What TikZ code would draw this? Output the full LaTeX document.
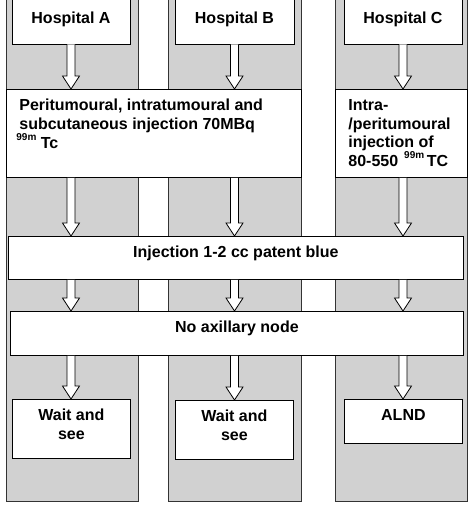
\documentclass[tikz,border=0pt]{standalone}
\usepackage{fontspec}
\setmainfont{Liberation Sans}
\usetikzlibrary{calc}
\definecolor{colgray}{gray}{0.82}
\definecolor{coledge}{gray}{0.2}
\newcommand*{\tbox}[3]{\parbox[c][#2pt][t]{#1pt}{#3}}
\newcommand*{\mass}[1]{{\fontsize{10}{10}\selectfont\raisebox{8pt}{#1}}}
\newcommand*{\blkarrow}[2]{%
  \draw[blockarrow] let \p1=(#1), \p2=(#2) in
    (\x1-4,\y1) -- (\x1-4,\y2+13) -- (\x1-8.5,\y2+13) -- (\x1,\y2)
    -- (\x1+8.5,\y2+13) -- (\x1+4,\y2+13) -- (\x1+4,\y1);}

\begin{document}
\begin{tikzpicture}[x=1pt,y=-1pt,
  column/.style={fill=colgray,draw=coledge,line width=0.8pt},
  box/.style={draw=black,line width=0.8pt,fill=white,anchor=north west,
    inner xsep=0pt,inner ysep=10pt,font=\fontsize{16}{18.6}\selectfont\bfseries},
  hosp/.style={draw=black,line width=0.8pt,fill=white,minimum height=50pt,
    font=\fontsize{16}{18.6}\selectfont\bfseries},
  blockarrow/.style={draw=black,line width=0.8pt,fill=white,line join=miter}]
\useasboundingbox (0,0) rectangle (474,515);
% Grey columns, one per hospital
\draw[column] (6,-6) rectangle (138,501);
\draw[column] (168,-6) rectangle (301,501);
\draw[column] (335,-6) rectangle (467,501);
% Hospital boxes
\node[hosp,minimum width=118pt] (hA) at (71,19) {Hospital A};
\node[hosp,minimum width=119pt] (hB) at (234.5,19) {Hospital B};
\node[hosp,minimum width=118pt] (hC) at (403,19) {Hospital C};
% Tracer injection
\node[box,inner xsep=13pt] (peri) at (6,89) {\tbox{269}{68}{\raggedright
  Peritumoural, intratumoural and\\
  subcutaneous injection 70MBq\\
  \hspace*{-3pt}\mass{99m} Tc}};
\node[box,inner xsep=13pt] (periC) at (335,89) {\tbox{106}{68}{\raggedright
  Intra-\\/peritumoural\\injection of\\80-550\hspace{6pt}\mass{99m}\,TC}};
% Blue dye and axilla
\node[box] (inj) at (8,236) {\tbox{455}{23}{\centering Injection 1-2 cc patent blue}};
\node[box] (noax) at (10,311) {\tbox{453}{24}{\centering No axillary node}};
% Outcome per hospital
\node[box] (wA) at (12,399) {\tbox{118}{39}{\centering Wait and\\see}};
\node[box] (wB) at (175,400) {\tbox{118}{39}{\centering Wait and\\see}};
\node[box] (alnd) at (344,399) {\tbox{118}{24}{\centering ALND}};
% Block arrows down each column
\blkarrow{hA.south}{hA.south |- peri.north}
\blkarrow{hB.south}{hB.south |- peri.north}
\blkarrow{hC.south}{hC.south |- periC.north}
\blkarrow{peri.south -| hA}{inj.north -| hA}
\blkarrow{peri.south -| hB}{inj.north -| hB}
\blkarrow{periC.south -| hC}{inj.north -| hC}
\blkarrow{inj.south -| hA}{noax.north -| hA}
\blkarrow{inj.south -| hB}{noax.north -| hB}
\blkarrow{inj.south -| hC}{noax.north -| hC}
\blkarrow{noax.south -| hA}{wA.north -| hA}
\blkarrow{noax.south -| hB}{wB.north -| hB}
\blkarrow{noax.south -| hC}{alnd.north -| hC}
\end{tikzpicture}
\end{document}
